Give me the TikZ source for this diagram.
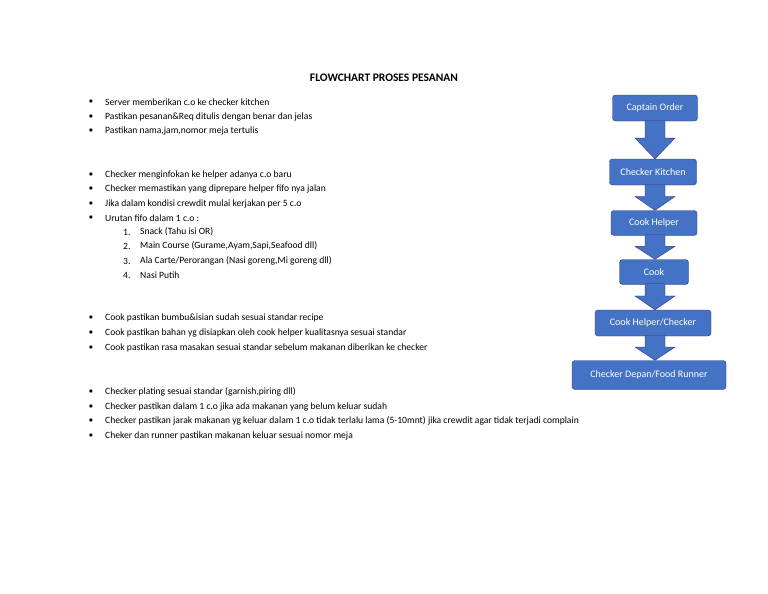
\documentclass[tikz,border=0pt]{standalone}
\usepackage{fontspec}
\setmainfont{Carlito}
\usetikzlibrary{calc}
\begin{document}
\begin{tikzpicture}[x=1pt,y=-1pt,
 box/.style={draw=blue!40!black!80!white,fill={rgb,255:red,68;green,114;blue,196},rounded corners=3pt,text=white,font=\fontsize{10}{12}\selectfont,inner sep=0pt},
 txt/.style={anchor=west,inner sep=0pt,font=\fontsize{9.6}{11}\selectfont},
 bul/.style={anchor=center,inner sep=0pt,font=\fontsize{8}{9}\selectfont}]
\useasboundingbox (0,0) rectangle (768,594);
\fill[white] (0,0) rectangle (768,594);
\node[font=\bfseries\fontsize{11.5}{13}\selectfont] (title) at (384,78) {FLOWCHART PROSES PESANAN};
\foreach \y/\t [count=\i] in {102/Server memberikan c.o ke checker kitchen,117/Pastikan pesanan\&Req ditulis dengan benar dan jelas,131/{Pastikan nama,jam,nomor meja tertulis},175/Checker menginfokan ke helper adanya c.o baru,189/Checker memastikan yang diprepare helper fifo nya jalan,204/Jika dalam kondisi crewdit mulai kerjakan per 5 c.o,218/Urutan fifo dalam 1 c.o :,318/Cook pastikan bumbu\&isian sudah sesuai standar recipe,333/Cook pastikan bahan yg disiapkan oleh cook helper kualitasnya sesuai standar,348/Cook pastikan rasa masakan sesuai standar sebelum makanan diberikan ke checker,392/{Checker plating sesuai standar (garnish,piring dll)},407/Checker pastikan dalam 1 c.o jika ada makanan yang belum keluar sudah/sedang diproses,421/Checker pastikan jarak makanan yg keluar dalam 1 c.o tidak terlalu lama (5-10mnt) jika crewdit agar tidak terjadi complain,436/Cheker dan runner pastikan makanan keluar sesuai nomor meja}
{\node[bul] (b\i) at (91,\y) {$\bullet$}; \node[txt] (t\i) at (105,\y) {\t};}
\foreach \y/\n/\t [count=\i] in {232/1./{Snack (Tahu isi OR)},246/2./{Main Course (Gurame,Ayam,Sapi,Seafood dll)},261/3./{Ala Carte/Perorangan (Nasi goreng,Mi goreng dll)},275/4./Nasi Putih}
{\node[txt] (n\i) at (123,\y) {\n}; \node[txt] (s\i) at (140,\y) {\t};}
% flowchart
\node[box,minimum width=85,minimum height=26] (c1) at (655,108) {Captain Order};
\node[box,minimum width=87,minimum height=26] (c2) at (653,172) {Checker Kitchen};
\node[box,minimum width=86,minimum height=25] (c3) at (654,223) {Cook Helper};
\node[box,minimum width=69,minimum height=25] (c4) at (654,272) {Cook};
\node[box,minimum width=116,minimum height=26] (c5) at (653,323) {Cook Helper/Checker};
\node[box,minimum width=154,minimum height=29] (c6) at (649,375) {Checker Depan/Food Runner};
\foreach \a/\b in {c1/c2,c2/c3,c3/c4,c4/c5,c5/c6}{
 \fill[draw=blue!40!black!80!white,fill={rgb,255:red,68;green,114;blue,196}]
  let \p1=(\a.south),\p2=(\b.north),\n1={\y1+0.45*(\y2-\y1)} in
  (655-10,\y1+1) -- (655+10,\y1+1) -- (655+10,\n1) -- (655+20,\n1) -- (655,\y2) -- (655-20,\n1) -- (655-10,\n1) -- cycle;
}
\end{tikzpicture}
\end{document}
